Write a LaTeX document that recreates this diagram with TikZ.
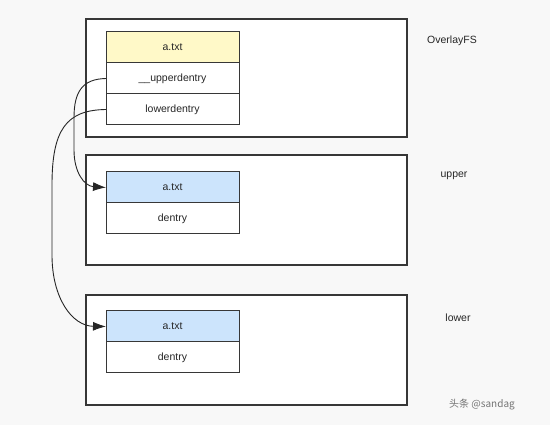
\documentclass[tikz,border=0pt]{standalone}
\usepackage{fontspec}
\setmainfont{Liberation Sans}
\newfontfamily\cjkfont{Noto Sans CJK SC}
\usepackage{xcolor}
\definecolor{pagebg}{RGB}{248,248,248}
\definecolor{edgegray}{RGB}{55,55,55}
\definecolor{ovfill}{RGB}{255,249,200}
\definecolor{layerfill}{RGB}{204,228,252}
\usetikzlibrary{positioning}
\usetikzlibrary{arrows.meta}

\begin{document}
\begin{tikzpicture}[x=1pt,y=-1pt,node distance=0pt,
    every node/.style={inner sep=1,outer sep=0,font=\fontsize{10.5}{12}\selectfont,text=black!85},
    layer/.style={draw=edgegray,line width=1.2pt,fill=white,minimum width=321pt,anchor=north west},
    cell/.style={draw=edgegray,line width=1pt,fill=white,minimum width=133pt,minimum height=31pt},
    link/.style={draw=black!85,line width=0.9pt,-{Latex[length=13pt,width=9pt]}}]
    \fill[pagebg] (0,0) rectangle (550,425);
    \useasboundingbox (0,0) rectangle (550,425);
	% the three layers
	\node (overlay) [layer,minimum height=118pt] at (86,19) {};
	\node (upper) [layer,minimum height=110pt] at (86,155) {};
	\node (lower) [layer,minimum height=110pt] at (86,295) {};
	\node (ovlabel) at (452,41) {OverlayFS};
	\node (uplabel) at (454,176) {upper};
	\node (lolabel) at (458,318) {lower};
	% overlay inode
	\node (ovfile) [cell,fill=ovfill,anchor=north west] at (106,32) {a.txt};
	\node (ovupper) [cell,below=of ovfile] {\_\_upperdentry};
	\node (ovlower) [cell,below=of ovupper] {lowerdentry};
	% upper inode
	\node (upfile) [cell,fill=layerfill,anchor=north west] at (106,172) {a.txt};
	\node (updentry) [cell,below=of upfile] {dentry};
	% lower inode
	\node (lofile) [cell,fill=layerfill,anchor=north west] at (106,311) {a.txt};
	\node (lodentry) [cell,below=of lofile] {dentry};
	% pointers
	\draw[link] (ovupper.west) .. controls (82,79) and (74,92) .. (74,118)
	    -- (74,150) .. controls (74,172) and (84,186) .. (upfile.west);
	\draw[link] (ovlower.west) .. controls (66,110) and (52,130) .. (52,185)
	    -- (52,255) .. controls (52,298) and (72,326) .. (lofile.west);
	\node (mark) [text=black!55,font=\cjkfont\normalsize] at (482,405) {头条 @sandag};
\end{tikzpicture}
\end{document}
